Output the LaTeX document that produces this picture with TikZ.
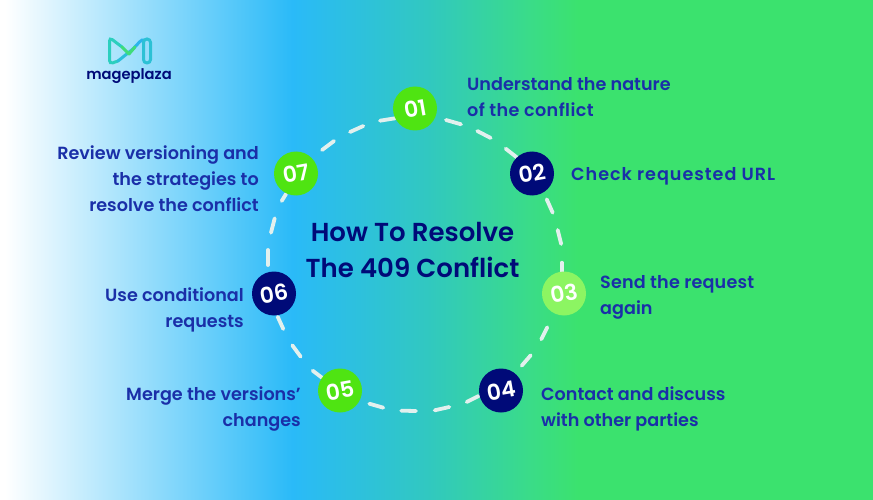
\documentclass[tikz,border=0pt]{standalone}
\usepackage{fontspec}
\setmainfont{Poppins}[BoldFont={Poppins SemiBold}]
\definecolor{navyc}{HTML}{000A78}
\definecolor{labelc}{HTML}{1A2FA8}
\definecolor{limec}{HTML}{4FE412}
\definecolor{palec}{HTML}{8CF562}
\definecolor{dashc}{HTML}{E2F0EE}
\definecolor{bgA}{HTML}{FFFFFF}
\definecolor{bgD}{HTML}{2ABAF8}
\definecolor{bgE}{HTML}{31C8C0}
\definecolor{bgF}{HTML}{3ADC88}
\definecolor{bgG}{HTML}{3BE26E}
\definecolor{logoteal}{HTML}{2CCFBE}
\definecolor{logoblue}{HTML}{2BB4EC}
\definecolor{logogreen}{HTML}{3FDC7A}
\tikzset{
  stepdot/.style={circle,minimum size=44pt,inner sep=0pt,text=white,font=\bfseries\fontsize{22}{22}\selectfont},
  navydot/.style={stepdot,fill=navyc},
  limedot/.style={stepdot,fill=limec},
  paledot/.style={stepdot,fill=palec},
  dashline/.style={draw=dashc,line width=3.8pt,line cap=round},
  steptext/.style={text=labelc,font=\bfseries\fontsize{17.6}{26}\selectfont,inner sep=0pt},
  titletext/.style={text=navyc,font=\bfseries\fontsize{26}{36.5}\selectfont,inner sep=0pt,align=center}
}
\begin{document}
\begin{tikzpicture}[x=1pt,y=-1pt]
\useasboundingbox (0,0) rectangle (873,500);
\fill[bgA] (0,0) rectangle (6,500);
\fill[left color=bgA,right color=bgD,draw=none] (5,0) rectangle (292.5,500);
\fill[left color=bgD,right color=bgE,draw=none] (292,0) rectangle (428.5,500);
\fill[left color=bgE,right color=bgF,draw=none] (428,0) rectangle (530.5,500);
\fill[left color=bgF,right color=bgG,draw=none] (530,0) rectangle (578.5,500);
\fill[bgG] (578,0) rectangle (873,500);
\foreach \a/\b/\c/\d in {380/120.7/395/118.3,350/132/363.3/126,322/150/334/141,281.7/201/286/194,
 271/232.7/274.7/218.3,268/265/268/250,446/120/461/124.3,477.3/131/490.7/138,505.7/148.7/516.7/157.3,
 546.7/199.3/552.7/212.7,557.7/230/561.2/244,561.7/262.7/561.7/272,547.3/327.3/541.3/339.3,530.7/355.3/521.7/365.7,
 478.7/396/466.7/402,449.3/407/434.7/410.3,416/411/401.3/410.7,383.3/407.7/369.3/403.7,
 322/377.7/312.7/370.7,300.7/356.7/292.3/345.3,283.3/329/277.7/316.7}
  \draw[dashline] (\a,\b) -- (\c,\d);
\node[limedot] (n1) at (415,108.5) {\rotatebox{10}{01}};
\node[navydot] (n2) at (532,173.5) {\rotatebox{10}{02}};
\node[paledot] (n3) at (564,293.5) {\rotatebox{10}{03}};
\node[navydot] (n4) at (501,390.5) {\rotatebox{10}{04}};
\node[limedot] (n5) at (340,390.5) {\rotatebox{10}{05}};
\node[navydot] (n6) at (274,293.5) {\rotatebox{10}{06}};
\node[limedot] (n7) at (296,173.5) {\rotatebox{10}{07}};
\node[titletext] (title) at (412.5,250) {How To Resolve\\The 409 Conflict};
\node[steptext,anchor=west,align=left] (t1) at (467,97) {Understand the nature\\{\addfontfeatures{LetterSpace=2.2}of the conflict}};
\node[steptext,anchor=west,align=left] (t2) at (571,176.5) {\addfontfeatures{LetterSpace=5.5}Check requested URL};
\node[steptext,anchor=west,align=left] (t3) at (600,297.5) {\addfontfeatures{LetterSpace=1}Send the request\\again};
\node[steptext,anchor=west,align=left] (t4) at (541,409) {Contact and discuss\\with other parties};
\node[steptext,anchor=east,align=right] (t5) at (301,409) {Merge the versions’\\changes};
\node[steptext,anchor=east,align=right] (t6) at (244,310) {Use conditional\\requests};
\node[steptext,anchor=east,align=right] (t7) at (259,179) {Review versioning and\\the strategies to\\resolve the conflict};
\draw[draw=logoteal,line width=3pt,rounded corners=3.5pt,line cap=round] (122,47) -- (109.5,37.5) -- (109.5,64) -- (118,61);
\draw[draw=logoblue!60!logoteal,line width=3pt,line cap=round] (118,61) -- (133,49);
\draw[draw=logoblue,line width=3pt,line cap=round] (133,49) -- (139.5,42) .. controls (141,40) and (143,39.5) .. (144.5,40);
\draw[draw=logoteal!50!logoblue,line width=3pt,rounded corners=3.4pt] (143.5,39) rectangle (150.5,63);
\draw[draw=logogreen,line width=3pt,line cap=round,line join=round] (122,47) -- (129,54) -- (135,47);
\node[text=navyc,font=\bfseries\fontsize{14.7}{16}\selectfont,inner sep=0pt] (logo) at (129,76.5) {mageplaza};
\end{tikzpicture}
\end{document}
